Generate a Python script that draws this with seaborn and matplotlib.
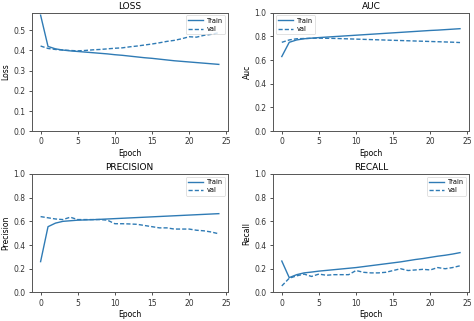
import matplotlib
matplotlib.use("Agg")
import matplotlib.pyplot as plt
import seaborn as sns
import pandas as pd
import numpy as np

epochs = list(range(25))

loss_train = [0.575, 0.42, 0.408, 0.402, 0.398, 0.395, 0.392, 0.389, 0.386, 0.383, 0.379, 0.376, 0.372,
              0.368, 0.364, 0.361, 0.357, 0.353, 0.349, 0.346, 0.343, 0.340, 0.337, 0.334, 0.331]
loss_val = [0.422, 0.41, 0.405, 0.402, 0.40, 0.398, 0.400, 0.403, 0.405, 0.408, 0.411, 0.413, 0.418,
            0.422, 0.427, 0.432, 0.438, 0.445, 0.450, 0.458, 0.468, 0.466, 0.475, 0.480, 0.488]

auc_train = [0.63, 0.75, 0.77, 0.78, 0.785, 0.79, 0.794, 0.798, 0.802, 0.806, 0.81, 0.814, 0.818,
             0.822, 0.826, 0.83, 0.834, 0.838, 0.842, 0.846, 0.85, 0.853, 0.857, 0.861, 0.865]
auc_val = [0.75, 0.77, 0.78, 0.782, 0.784, 0.785, 0.784, 0.783, 0.781, 0.779, 0.777, 0.775, 0.773,
           0.771, 0.769, 0.767, 0.765, 0.763, 0.761, 0.759, 0.757, 0.755, 0.753, 0.751, 0.748]

prec_train = [0.26, 0.555, 0.585, 0.60, 0.605, 0.61, 0.612, 0.614, 0.617, 0.62, 0.623, 0.626, 0.629,
              0.632, 0.635, 0.638, 0.641, 0.644, 0.647, 0.65, 0.653, 0.656, 0.659, 0.662, 0.665]
prec_val = [0.64, 0.63, 0.62, 0.615, 0.635, 0.615, 0.615, 0.615, 0.615, 0.61, 0.58, 0.58, 0.578,
            0.575, 0.565, 0.555, 0.545, 0.545, 0.535, 0.535, 0.535, 0.525, 0.52, 0.51, 0.495]

rec_train = [0.265, 0.125, 0.15, 0.165, 0.172, 0.18, 0.186, 0.192, 0.198, 0.204, 0.21, 0.218, 0.226,
             0.234, 0.242, 0.25, 0.258, 0.268, 0.278, 0.286, 0.296, 0.306, 0.314, 0.324, 0.336]
rec_val = [0.055, 0.12, 0.14, 0.155, 0.135, 0.155, 0.145, 0.15, 0.15, 0.15, 0.185, 0.17, 0.165,
           0.165, 0.17, 0.185, 0.2, 0.185, 0.19, 0.195, 0.19, 0.21, 0.2, 0.21, 0.225]

titles = ["LOSS", "AUC", "PRECISION", "RECALL"]
ylabels = ["Loss", "Auc", "Precision", "Recall"]
series = [(loss_train, loss_val), (auc_train, auc_val), (prec_train, prec_val), (rec_train, rec_val)]
legend_locs = ["upper right", "upper left", "upper right", "upper right"]

plt.rcParams.update({
    "font.size": 5.5,
    "axes.titlesize": 6.5,
    "axes.labelsize": 5.5,
    "xtick.labelsize": 5.5,
    "ytick.labelsize": 5.5,
    "legend.fontsize": 4.8,
    "axes.linewidth": 0.7,
    "axes.edgecolor": "#555555",
    "xtick.color": "#333333",
    "ytick.color": "#333333",
    "xtick.major.width": 0.6,
    "ytick.major.width": 0.6,
    "xtick.major.size": 2.5,
    "ytick.major.size": 2.5,
    "xtick.major.pad": 2,
    "ytick.major.pad": 2,
    "axes.titlepad": 3,
    "axes.labelpad": 2,
})

fig, axes = plt.subplots(2, 2, figsize=(4.74, 3.21), dpi=100)
color = "#2f7bb5"
for ax, title, ylab, (tr, va), loc in zip(axes.flat, titles, ylabels, series, legend_locs):
    df = pd.DataFrame({
        "Epoch": epochs + epochs,
        "value": tr + va,
        "Set": ["Train"] * len(tr) + ["val"] * len(va),
    })
    sns.lineplot(data=df, x="Epoch", y="value", style="Set", ax=ax, color=color,
                 dashes={"Train": "", "val": (3, 1.5)}, linewidth=1.0)
    ax.set_title(title)
    ax.set_ylabel(ylab)
    ax.set_xlabel("Epoch")
    if title == "LOSS":
        ax.set_ylim(0, None)
    else:
        ax.set_ylim(0, 1)
    ax.set_xticks([0, 5, 10, 15, 20, 25])
    leg = ax.legend(loc=loc, handlelength=2.2, frameon=True, borderpad=0.35,
                    labelspacing=0.35, handletextpad=0.6, borderaxespad=0.4)
    leg.get_frame().set_linewidth(0.5)

fig.tight_layout(pad=0.2, h_pad=0.6, w_pad=1.5)
fig.savefig("out.png", dpi=100)
